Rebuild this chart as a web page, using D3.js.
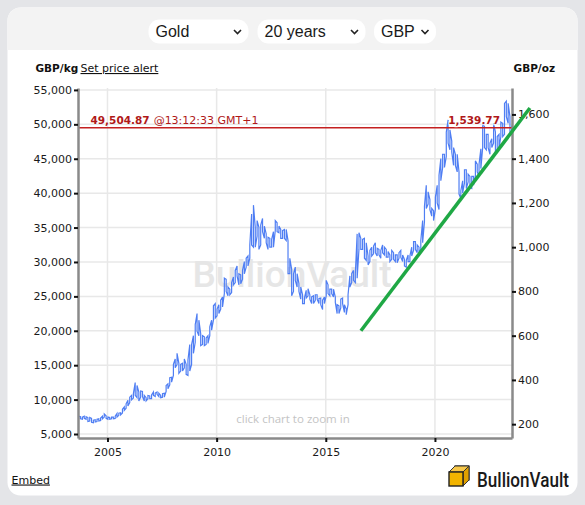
<!DOCTYPE html>
<html>
<head>
<meta charset="utf-8">
<script src="https://cdn.jsdelivr.net/npm/d3@7"></script>
<style>
  html, body { margin: 0; padding: 0; background: #e4e5e8; }
  svg { display: block; }
</style>
</head>
<body>
<svg id="chart"></svg>
<script>
// gold price, GBP/oz, one [low, high] per month starting Sep 2003
var startYear = 2003, startMonth = 9;
var priceLow = [
  222,224,222,226,                                        // 2003
  222,212,214,208,206,210,212,214,216,224,232,226,        // 2004
  222,222,224,224,226,232,240,242,250,262,272,282,        // 2005
  298,310,318,330,320,305,322,325,305,305,315,315,        // 2006
  315,330,325,335,325,320,322,322,348,360,378,390,        // 2007
  420,455,470,430,440,440,455,425,420,440,470,520,        // 2008
  570,620,600,555,560,555,560,565,600,625,670,680,        // 2009
  690,700,720,730,790,800,780,785,795,830,840,870,        // 2010
  830,835,855,880,910,915,950,1010,1000,1000,1050,990,    // 2011
  1010,1070,1040,1020,990,1000,1000,1000,1075,1070,1065,1040, // 2012
  1040,1040,1030,880,880,780,800,850,820,800,765,745,     // 2013
  745,770,780,765,745,745,760,765,745,740,718,745,        // 2014
  780,790,780,790,775,750,700,700,725,745,705,695,        // 2015
  740,820,840,850,840,860,990,990,990,950,940,920,        // 2016
  935,960,970,975,960,965,950,975,965,955,955,935,        // 2017
  945,945,935,930,950,955,935,915,910,935,935,960,        // 2018
  985,990,975,980,990,1020,1115,1175,1195,1170,1140,1120, // 2019
  1170,1200,1170,1300,1360,1360,1410,1470,1440,1430,1370,1370, // 2020
  1340,1240,1220,1245,1290,1265,1295,1270,1265,1280,1320,1340, // 2021
  1320,1355,1450,1450,1440,1450,1420,1450,1470,1430,1430,1450, // 2022
  1500,1500,1510,1590,1560,1520,1510                      // 2023
];
var priceHigh = [
  236,234,232,236,
  234,230,230,226,218,220,222,224,228,236,246,238,
  232,230,232,232,236,248,250,252,268,278,292,308,
  322,330,338,388,375,345,350,348,330,320,330,328,
  332,345,340,345,340,330,338,340,375,382,410,412,
  470,495,520,475,470,475,495,470,490,560,560,600,
  650,700,670,610,600,595,590,600,640,670,735,745,
  720,740,760,775,860,855,820,810,840,865,895,915,
  880,875,895,935,950,960,1010,1150,1190,1090,1120,1090,
  1100,1130,1095,1060,1045,1040,1035,1070,1120,1110,1095,1080,
  1075,1080,1080,1030,950,900,880,910,880,835,820,785,
  770,805,812,785,775,780,785,785,768,770,760,775,
  850,830,810,810,810,775,740,735,765,770,740,720,
  785,870,880,895,880,1060,1065,1040,1035,1040,1020,960,
  985,1000,1005,1020,995,990,985,1010,1000,990,980,965,
  985,975,965,965,975,985,965,945,940,965,960,1000,
  1025,1025,1010,1000,1030,1120,1185,1280,1250,1215,1175,1165,
  1225,1280,1325,1400,1420,1420,1520,1575,1530,1480,1450,1420,
  1420,1340,1255,1300,1350,1350,1330,1320,1320,1320,1390,1375,
  1375,1445,1555,1545,1510,1510,1470,1490,1560,1520,1500,1510,
  1565,1560,1650,1660,1650,1590,1550
];

var kgTicks = [5000, 10000, 15000, 20000, 25000, 30000, 35000, 40000, 45000, 50000, 55000];
var ozTicks = [200, 400, 600, 800, 1000, 1200, 1400, 1600];
var yearTicks = [2005, 2010, 2015, 2020];

var spotKg = 49504.87, spotOz = 1539.77, spotTime = "@13:12:33 GMT+1";
// hand drawn support line, [year, GBP/oz]
var trendLine = [[2016.61, 622], [2024.35, 1629]];

var selectors = ["Gold", "20 years", "GBP"];

var OZ_PER_KG = 32.1507;
var W = 585, H = 505;
var plot = {left: 78, right: 512, top: 88, bottom: 438};
var axisFont = "DejaVu Sans, Verdana, sans-serif";

var svg = d3.select("#chart").attr("width", W).attr("height", H);

// page + card
svg.append("rect").attr("width", W).attr("height", H).attr("fill", "#e4e5e8");
svg.append("rect").attr("x", 7.5).attr("y", 7.5).attr("width", 570).attr("height", 488)
    .attr("rx", 13).attr("fill", "#fff");
svg.append("path")
    .attr("d", "M7.5,50 V20.5 a13,13 0 0 1 13,-13 H564.5 a13,13 0 0 1 13,13 V50 Z")
    .attr("fill", "#f3f3f3");

// fake select boxes
var selBoxes = [{x: 148.5, w: 100}, {x: 257.5, w: 108}, {x: 374, w: 62}];
var sel = svg.append("g").selectAll("g").data(selectors).enter().append("g")
    .attr("transform", function (d, i) { return "translate(" + selBoxes[i].x + ",19.5)"; });
sel.append("rect").attr("width", function (d, i) { return selBoxes[i].w; })
    .attr("height", 24).attr("rx", 11).attr("fill", "#fff");
sel.append("text").attr("x", 7).attr("y", 17.5)
    .attr("font-family", "Liberation Sans, Arial, sans-serif").attr("font-size", 16)
    .attr("fill", "#1a1a1a").text(function (d) { return d; });
sel.append("path")
    .attr("d", function (d, i) {
      var cx = selBoxes[i].w - 11;
      return "M" + (cx - 3.5) + ",10.5 L" + cx + ",14 L" + (cx + 3.5) + ",10.5";
    })
    .attr("fill", "none").attr("stroke", "#222").attr("stroke-width", 1.6);

// scales
var x = d3.scaleLinear().domain([2003.65, 2023.53]).range([plot.left, plot.right]);
var yKg = d3.scaleLinear().domain([4420, 55280]).range([plot.bottom, plot.top]);
var yOz = d3.scaleLinear().domain([4420 / OZ_PER_KG, 55280 / OZ_PER_KG]).range([plot.bottom, plot.top]);

// grid
var grid = svg.append("g").attr("stroke", "#e8e8e8").attr("stroke-width", 1.5);
grid.selectAll(".h").data(kgTicks).enter().append("line")
    .attr("x1", plot.left).attr("x2", plot.right)
    .attr("y1", function (d) { return yKg(d); }).attr("y2", function (d) { return yKg(d); });
grid.selectAll(".v").data(yearTicks).enter().append("line")
    .attr("y1", plot.top).attr("y2", plot.bottom)
    .attr("x1", function (d) { return x(d); }).attr("x2", function (d) { return x(d); });

// watermark
svg.append("text").attr("x", 292).attr("y", 287).attr("text-anchor", "middle")
    .attr("font-family", "Roboto, sans-serif").attr("font-size", 37).attr("font-weight", 500)
    .attr("fill", "#e6e6e6").text("BullionVault");
svg.append("text").attr("x", 293).attr("y", 422.5).attr("text-anchor", "middle")
    .attr("font-family", "Open Sans, sans-serif").attr("font-size", 11.5)
    .attr("fill", "#c4c4c4").text("click chart to zoom in");

// price series: zig-zag through each month's low and high
var pts = [];
priceLow.forEach(function (lo, i) {
  var yr = startYear + (startMonth - 1 + i) / 12 + 0.02;
  var a = [yr, lo], b = [yr, priceHigh[i]];
  if (i % 2) { pts.push(b, a); } else { pts.push(a, b); }
});
svg.append("clipPath").attr("id", "clip").append("rect")
    .attr("x", plot.left).attr("y", plot.top)
    .attr("width", plot.right - plot.left).attr("height", plot.bottom - plot.top);
svg.append("path").datum(pts)
    .attr("clip-path", "url(#clip)")
    .attr("fill", "none").attr("stroke", "#4f7ef3").attr("stroke-width", 1.2)
    .attr("d", d3.line().x(function (d) { return x(d[0]); }).y(function (d) { return yOz(d[1]); }));

// current price line
var spotY = yKg(spotKg);
svg.append("line").attr("x1", plot.left).attr("x2", plot.right)
    .attr("y1", spotY).attr("y2", spotY).attr("stroke", "#c42020").attr("stroke-width", 1.6);
var spot = svg.append("text").attr("x", 90.5).attr("y", spotY - 3.5)
    .attr("font-family", axisFont).attr("font-size", 11).attr("fill", "#b01818");
spot.append("tspan").attr("font-weight", "bold").attr("font-size", 10.5)
    .text(d3.format(",.2f")(spotKg));
spot.append("tspan").attr("dx", 4).text(spotTime);
svg.append("text").attr("x", 500).attr("y", spotY - 3.5).attr("text-anchor", "end")
    .attr("font-family", axisFont).attr("font-size", 10.5).attr("font-weight", "bold")
    .attr("fill", "#b01818").attr("stroke", "#fff").attr("stroke-width", 2.5)
    .attr("stroke-opacity", 0.7).attr("paint-order", "stroke").text(d3.format(",.2f")(spotOz));

// axes
function styleAxis(g) {
  g.select(".domain").attr("stroke", "#8a8a8a").attr("stroke-width", 2.5);
  g.selectAll(".tick line").attr("stroke", "#111").attr("stroke-width", 2);
  g.selectAll(".tick text").attr("font-family", axisFont).attr("font-size", 11).attr("fill", "#1a1a1a");
}
svg.append("g").attr("transform", "translate(" + plot.left + ",0)")
    .call(d3.axisLeft(yKg).tickValues(kgTicks).tickFormat(d3.format(",")).tickSize(4).tickSizeOuter(0).tickPadding(2))
    .call(styleAxis);
svg.append("g").attr("transform", "translate(" + plot.right + ",0)")
    .call(d3.axisRight(yOz).tickValues(ozTicks).tickFormat(d3.format(",")).tickSize(4).tickSizeOuter(0).tickPadding(2))
    .call(styleAxis);
svg.append("g").attr("transform", "translate(0," + plot.bottom + ")")
    .call(d3.axisBottom(x).tickValues(yearTicks).tickFormat(d3.format("d")).tickSize(4).tickSizeOuter(0).tickPadding(6))
    .call(styleAxis);

// trend annotation
svg.append("path").datum(trendLine)
    .attr("fill", "none").attr("stroke", "#1fa845").attr("stroke-width", 3.5)
    .attr("d", d3.line().x(function (d) { return x(d[0]); }).y(function (d) { return yOz(d[1]); }));

// unit labels
var units = svg.append("g").attr("font-family", axisFont).attr("font-size", 11).attr("fill", "#111");
units.append("text").attr("x", 35.5).attr("y", 72).attr("font-weight", "bold").attr("font-size", 10.5).text("GBP/kg");
units.append("text").attr("x", 80.5).attr("y", 72).attr("text-decoration", "underline").text("Set price alert");
units.append("text").attr("x", 555).attr("y", 72).attr("text-anchor", "end")
    .attr("font-weight", "bold").attr("font-size", 10.5).text("GBP/oz");
svg.append("text").attr("x", 11.5).attr("y", 483.5).attr("font-family", axisFont).attr("font-size", 11)
    .attr("fill", "#111").attr("text-decoration", "underline").text("Embed");

// logo
var logo = svg.append("g").attr("transform", "translate(448,466)");
logo.append("rect").attr("x", 7).attr("y", 0).attr("width", 14).attr("height", 14)
    .attr("fill", "none").attr("stroke", "#333").attr("stroke-width", 1.2);
logo.append("path").attr("d", "M1,6 L7,0 L21,0 L15,6 Z").attr("fill", "#f7c84a").attr("stroke", "#333").attr("stroke-width", 1);
logo.append("path").attr("d", "M15,6 L21,0 L21,14 L15,20 Z").attr("fill", "#e0a000").attr("stroke", "#333").attr("stroke-width", 1);
logo.append("rect").attr("x", 1).attr("y", 6).attr("width", 14).attr("height", 14)
    .attr("fill", "#f2b400").attr("stroke", "#222").attr("stroke-width", 1.4);
logo.append("text").attr("x", 29).attr("y", 20.5)
    .attr("font-family", "Roboto, sans-serif").attr("font-size", 20).attr("font-weight", 500)
    .attr("fill", "#1a1a1a").attr("textLength", 92).attr("lengthAdjust", "spacingAndGlyphs")
    .text("BullionVault");
</script>
</body>
</html>
